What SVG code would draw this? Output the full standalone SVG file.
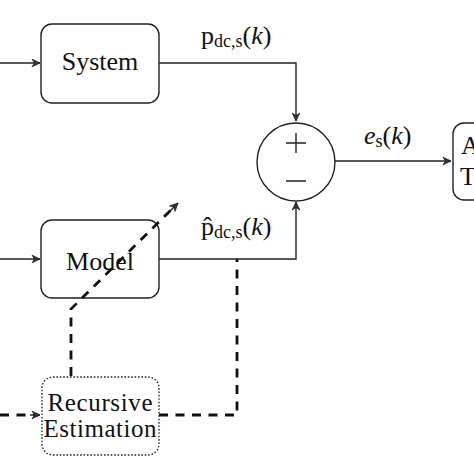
<svg xmlns="http://www.w3.org/2000/svg" width="474" height="474" viewBox="0 0 474 474" font-family="'Liberation Serif', 'DejaVu Serif', serif">
<style>
.box{fill:#fff;stroke:#222;stroke-width:1.4}
.dot{fill:#fff;stroke:#222;stroke-width:1.3;stroke-dasharray:1.6 1.8}
.sol{fill:none;stroke:#222;stroke-width:1.4}
.dash{fill:none;stroke:#111;stroke-width:2.8;stroke-dasharray:9 7.5}
.t{font-size:26px;font-family:'Liberation Serif','DejaVu Serif',serif;fill:#111}
.r{font-size:25px;font-family:'Liberation Serif','DejaVu Serif',serif;fill:#111}
.sub{font-size:18px;font-family:'Liberation Serif','DejaVu Serif',serif;fill:#111}
</style>
<defs>
<marker id="ah" markerUnits="userSpaceOnUse" viewBox="-9 -5 10 10" refX="0" refY="0" markerWidth="10" markerHeight="10" orient="auto">
<path d="M0,0 L-8,-3.8 L-5.5,0 L-8,3.8 Z" fill="#333" stroke="#222" stroke-width="0.8"/>
</marker>
</defs>
<g id="system">
<rect class="box" x="41" y="24" width="118" height="79" rx="11"/>
<text class="t" x="100" y="70" text-anchor="middle" font-family="'Liberation Serif', serif">System</text>
</g>
<g id="model">
<rect class="box" x="41" y="220" width="118" height="78" rx="11"/>
<text class="t" x="100" y="270" text-anchor="middle" font-family="'Liberation Serif', serif">Model</text>
</g>
<g id="sum">
<circle class="box" cx="296" cy="162" r="39"/>
<path class="sol" d="M286,143 L306,143 M296,133 L296,153 M286,181 L306,181"/>
</g>
<g id="recursive">
<rect class="dot" x="42" y="377" width="117" height="78" rx="11"/>
<text class="r" x="100" y="411" text-anchor="middle" textLength="105" font-family="'Liberation Serif', serif">Recursive</text>
<text class="r" x="100" y="437" text-anchor="middle" textLength="113" font-family="'Liberation Serif', serif">Estimation</text>
</g>
<g id="right">
<rect class="box" x="453" y="123" width="60" height="77" rx="11"/>
<text class="t" x="461" y="154" font-family="'Liberation Serif', serif">A</text>
<text class="t" x="460" y="185" font-family="'Liberation Serif', serif">T</text>
</g>
<g id="connectors">
<path class="sol" d="M0,63 L40,63" marker-end="url(#ah)"/>
<path class="sol" d="M0,259 L40,259" marker-end="url(#ah)"/>
<path class="sol" d="M159,63 L296,63 L296,121" marker-end="url(#ah)"/>
<path class="sol" d="M159,259 L296,259 L296,202" marker-end="url(#ah)"/>
<path class="sol" d="M335,161 L451,161" marker-end="url(#ah)"/>
<path class="dash" d="M0,415 L38,415"/>
<path class="sol" d="M30,415 L40,415" marker-end="url(#ah)"/>
<path class="dash" d="M159,415 L237,415 L237,259"/>
<path class="dash" d="M71,376 L71,309 L173,208"/>
<path class="sol" d="M170,211 L178,203" marker-end="url(#ah)"/>
<text x="201" y="44" font-family="'Liberation Serif', serif"><tspan class="t">p</tspan><tspan class="sub" dy="3">dc,s</tspan><tspan class="t" dy="-3">(</tspan><tspan class="t" font-style="italic">k</tspan><tspan class="t">)</tspan></text>
<text x="201" y="235" font-family="'Liberation Serif', serif"><tspan class="t">p̂</tspan><tspan class="sub" dy="3">dc,s</tspan><tspan class="t" dy="-3">(</tspan><tspan class="t" font-style="italic">k</tspan><tspan class="t">)</tspan></text>
<text x="364" y="144" font-family="'Liberation Serif', serif"><tspan class="t" font-style="italic">e</tspan><tspan class="sub" dy="3">s</tspan><tspan class="t" dy="-3">(</tspan><tspan class="t" font-style="italic">k</tspan><tspan class="t">)</tspan></text>
</g>
</svg>
